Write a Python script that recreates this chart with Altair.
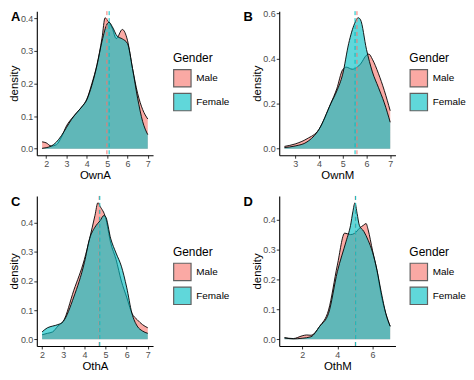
import altair as alt
import pandas as pd

FONT = "Liberation Sans"
MALE_COL = "#F8766D"
FEMALE_COL = "#00BFC4"

# ---- Panel A: OwnA ----
a_male_x = [1.8, 2.0, 2.25, 2.5, 2.75, 3.0, 3.25, 3.5, 3.75, 4.0, 4.25, 4.5, 4.75, 4.9, 5.0, 5.25, 5.45, 5.75, 6.0, 6.25, 6.5, 6.75, 7.0]
a_male_d = [0.021, 0.018, 0.008, 0.012, 0.035, 0.07, 0.092, 0.11, 0.128, 0.152, 0.2, 0.258, 0.34, 0.402, 0.395, 0.37, 0.338, 0.366, 0.333, 0.246, 0.17, 0.12, 0.091]
a_female_x = [1.8, 2.0, 2.25, 2.5, 2.75, 3.0, 3.25, 3.5, 3.75, 4.0, 4.25, 4.5, 4.75, 5.0, 5.1, 5.25, 5.5, 5.75, 6.0, 6.25, 6.5, 6.75, 7.0]
a_female_d = [0.001, 0.003, 0.008, 0.02, 0.04, 0.065, 0.09, 0.11, 0.128, 0.15, 0.195, 0.255, 0.33, 0.383, 0.388, 0.375, 0.345, 0.337, 0.323, 0.246, 0.155, 0.083, 0.043]
a_means = [4.99, 5.1]

# ---- Panel B: OwnM ----
b_male_x = [2.55, 3.0, 3.5, 4.0, 4.5, 4.75, 5.0, 5.15, 5.4, 5.6, 5.75, 6.0, 6.1, 6.25, 6.5, 6.75, 7.0]
b_male_d = [0.01, 0.021, 0.044, 0.085, 0.2, 0.265, 0.35, 0.361, 0.352, 0.36, 0.375, 0.414, 0.419, 0.396, 0.334, 0.258, 0.168]
b_female_x = [2.55, 3.0, 3.5, 4.0, 4.5, 4.75, 5.0, 5.25, 5.5, 5.65, 5.75, 6.0, 6.25, 6.5, 6.75, 7.0]
b_female_d = [0.005, 0.012, 0.03, 0.085, 0.2, 0.255, 0.33, 0.465, 0.554, 0.58, 0.571, 0.44, 0.34, 0.272, 0.203, 0.117]
b_means = [5.6, 5.52]

# ---- Panel C: OthA ----
c_male_x = [2.0, 2.25, 2.5, 2.75, 3.0, 3.5, 4.0, 4.25, 4.5, 4.64, 4.75, 5.0, 5.25, 5.5, 5.75, 6.0, 6.25, 6.5, 6.75, 7.0]
c_male_d = [0.015, 0.02, 0.025, 0.045, 0.061, 0.168, 0.274, 0.346, 0.425, 0.469, 0.456, 0.419, 0.33, 0.274, 0.2, 0.145, 0.089, 0.067, 0.05, 0.039]
c_female_x = [2.0, 2.25, 2.5, 2.75, 3.0, 3.5, 4.0, 4.25, 4.5, 4.75, 4.92, 5.0, 5.25, 5.5, 5.75, 6.0, 6.25, 6.5, 6.75, 7.0]
c_female_d = [0.025, 0.039, 0.045, 0.05, 0.061, 0.145, 0.263, 0.346, 0.385, 0.408, 0.425, 0.422, 0.345, 0.296, 0.251, 0.179, 0.089, 0.045, 0.028, 0.02]
c_means = [4.7, 4.73]

# ---- Panel D: OthM ----
d_male_x = [1.0, 1.5, 2.0, 2.25, 2.5, 3.0, 3.5, 4.0, 4.42, 4.75, 5.0, 5.25, 5.5, 5.63, 5.75, 6.0, 6.25, 6.5, 6.75, 7.0]
d_male_d = [0.005, 0.002, 0.011, 0.014, 0.013, 0.043, 0.097, 0.247, 0.354, 0.349, 0.354, 0.37, 0.381, 0.386, 0.365, 0.295, 0.23, 0.145, 0.086, 0.043]
d_female_x = [1.0, 1.5, 2.0, 2.5, 3.0, 3.5, 4.0, 4.5, 4.75, 4.88, 5.0, 5.12, 5.25, 5.5, 5.75, 6.0, 6.25, 6.5, 6.75, 7.0]
d_female_d = [0.004, 0.001, 0.003, 0.008, 0.043, 0.086, 0.225, 0.327, 0.38, 0.425, 0.455, 0.42, 0.38, 0.36, 0.33, 0.29, 0.23, 0.155, 0.086, 0.043]
d_means = [5.02, 5.04]

genders = ["Male", "Female"]


def panel(letter, xtitle, mx, md, fx, fd, means, xdom, ydom, xticks, yticks,
          height, label_dx, legend_x, legend_y):
    df = pd.DataFrame({
        "x": mx + fx,
        "d": md + fd,
        "g": ["Male"] * len(mx) + ["Female"] * len(fx),
    })
    mdf = pd.DataFrame({"x": means, "g": genders, "col": [MALE_COL, FEMALE_COL]})
    xs = alt.Scale(domain=xdom, nice=False, zero=False)
    ys = alt.Scale(domain=ydom, nice=False, zero=False)
    cs = alt.Scale(domain=genders, range=[MALE_COL, FEMALE_COL])
    xaxis = alt.Axis(values=xticks, format="d", title=xtitle, labelOverlap=False,
                     titlePadding=1)
    X = alt.X("x:Q", scale=xs, axis=xaxis)
    Y = alt.Y("d:Q", scale=ys, stack=None,
              axis=alt.Axis(values=yticks, format=".1f", title="density",
                            labelOverlap=False, labelPadding=1, titlePadding=0.5))
    leg = alt.Legend(orient="none", legendX=legend_x, legendY=legend_y, title="Gender",
                     symbolType="square", symbolSize=306,
                     symbolStrokeColor="black", symbolStrokeWidth=1.2)
    base = alt.Chart(df)
    layers = []
    for g in genders:
        layers.append(
            base.transform_filter(alt.datum.g == g)
            .mark_area(opacity=0.62, interpolate="monotone")
            .encode(x=X, y=Y, y2=alt.datum(0), color=alt.Color("g:N", scale=cs, legend=leg))
        )
        layers.append(
            base.transform_filter(alt.datum.g == g)
            .mark_line(color="black", strokeWidth=0.9, interpolate="monotone")
            .encode(x=X, y=Y)
        )
    rules = alt.Chart(mdf).mark_rule(strokeDash=[4, 3], strokeWidth=1).encode(
        x=X, color=alt.Color("col:N", scale=None)
    )
    label = alt.Chart(pd.DataFrame({"t": [letter]})).mark_text(
        align="left", baseline="top", fontWeight="bold", fontSize=13, font=FONT, color="black"
    ).encode(text="t:N", x=alt.value(label_dx), y=alt.value(0))
    return alt.layer(*layers, rules, label).properties(width=117, height=height)


pA = panel("A", "OwnA", a_male_x, a_male_d, a_female_x, a_female_d, a_means,
           [1.54, 7.26], [-0.0201, 0.4221], [2, 3, 4, 5, 6, 7], [0, 0.1, 0.2, 0.3, 0.4],
           145, -26, 137, 42)
pB = panel("B", "OwnM", b_male_x, b_male_d, b_female_x, b_female_d, b_means,
           [2.33, 7.22], [-0.029, 0.609], [3, 4, 5, 6, 7], [0, 0.2, 0.4, 0.6],
           145, -36, 131, 42)
pC = panel("C", "OthA", c_male_x, c_male_d, c_female_x, c_female_d, c_means,
           [1.75, 7.25], [-0.0235, 0.4925], [2, 3, 4, 5, 6, 7], [0, 0.1, 0.2, 0.3, 0.4],
           151, -26, 137, 51)
pD = panel("D", "OthM", d_male_x, d_male_d, d_female_x, d_female_d, d_means,
           [0.7, 7.3], [-0.0228, 0.478], [2, 4, 6], [0, 0.1, 0.2, 0.3, 0.4],
           151, -36, 131, 51)

top = alt.hconcat(pA, pB, spacing=14).resolve_scale(color="independent")
bottom = alt.hconcat(pC, pD, spacing=14).resolve_scale(color="independent")

chart = (
    alt.vconcat(top, bottom, spacing=14)
    .resolve_scale(color="independent")
    .properties(padding={"top": 0, "left": 0, "right": 0, "bottom": -1}, background="white")
    .configure_view(stroke=None)
    .configure_axis(
        grid=False, domainColor="black", domainWidth=1.1, tickColor="#333333",
        tickSize=3, labelColor="#4d4d4d", labelFontSize=9, labelFont=FONT,
        titleFont=FONT, titleFontSize=11.5, titleFontWeight="normal", titleColor="black",
        labelPadding=1.5, titlePadding=1.5, labelOverlap=False,
    )
    .configure_legend(
        titleFont=FONT, titleFontSize=12, titleFontWeight="normal", titleColor="black",
        labelFont=FONT, labelFontSize=10, labelColor="black", rowPadding=1,
        titlePadding=4, labelOffset=4.5, padding=0,
    )
)

chart.save("out.html", embed_options={"renderer": "svg", "actions": False})
